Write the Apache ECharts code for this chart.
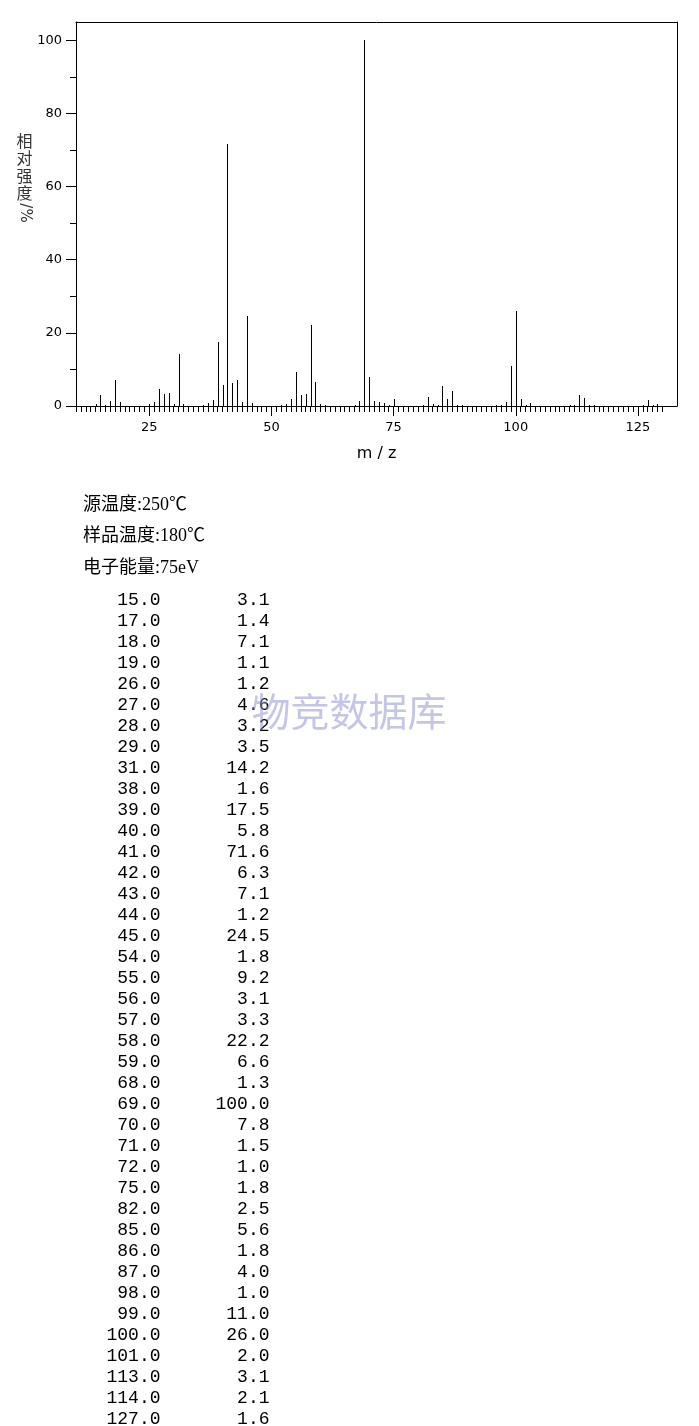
<!DOCTYPE html>
<html><head><meta charset="utf-8">
<script src="https://cdn.jsdelivr.net/npm/echarts@6/dist/echarts.min.js"></script>
<style>html,body{margin:0;padding:0;background:#fff;}#c{width:699px;height:1426px;}</style>
</head><body><div id="c"></div>
<script>
// Peaks listed in the table (m/z, relative intensity %)
const tableMz = [15,17,18,19,26,27,28,29,31,38,39,40,41,42,43,44,45,54,55,56,57,58,59,68,69,70,71,72,75,82,85,86,87,98,99,100,101,113,114,127];
const tableIntensity = [3.1,1.4,7.1,1.1,1.2,4.6,3.2,3.5,14.2,1.6,17.5,5.8,71.6,6.3,7.1,1.2,24.5,1.8,9.2,3.1,3.3,22.2,6.6,1.3,100.0,7.8,1.5,1.0,1.8,2.5,5.6,1.8,4.0,1.0,11.0,26.0,2.0,3.1,2.1,1.6];
// Small peaks visible in the plot only
const minorMz = [14,16,25,30,32,36,37,46,52,53,60,61,67,73,74,81,83,84,88,89,96,97,102,103,111,112,115,116,126,128,129];
const minorIntensity = [0.6,0.4,0.5,0.6,0.5,0.4,0.9,0.8,0.4,0.6,0.5,0.2,0.4,0.8,0.4,0.4,0.6,0.4,0.4,0.4,0.4,0.2,0.4,0.9,0.4,0.3,0.4,0.4,0.4,0.4,0.6];
// Axis ticks / labels
const xMajorTicks = [25,50,75,100,125];
const xMinorTicks = [];
for (let v = 10; v <= 130; v++) xMinorTicks.push(v);
const yMajorTicks = [0,20,40,60,80,100];
const yMinorTicks = [10,30,50,70,90];
// Texts
const yNameChars = ['相','对','强','度'];
const yNameTail = '/%';
const xName = 'm / z';
const infoLines = ['源温度:250℃','样品温度:180℃','电子能量:75eV'];
const watermark = '物竞数据库';

const peaks = [];
tableMz.forEach((m,i)=>peaks.push([m, tableIntensity[i]]));
minorMz.forEach((m,i)=>peaks.push([m, minorIntensity[i]]));

const chart = echarts.init(document.getElementById('c'), null, {renderer:'canvas'});

const gfx = [];
yNameChars.forEach((ch,i)=>{
  gfx.push({type:'text', x:24.5, y:141 + i*17.3, style:{text:ch, fill:'#333', font:'16px "Noto Sans CJK SC"', align:'center', verticalAlign:'middle'}});
});
gfx.push({type:'text', x:24.5, y:213, rotation:-Math.PI/2, style:{text:yNameTail, fill:'#333', font:'15px "DejaVu Sans"', align:'center', verticalAlign:'middle'}});
gfx.push({type:'text', x:376.5, y:454, style:{text:xName, fill:'#000', font:'16px "DejaVu Sans"', align:'center', verticalAlign:'middle'}});
infoLines.forEach((t,i)=>{
  gfx.push({type:'text', x:83, y:[505,536,568][i], style:{text:t, fill:'#000', font:'18px "Liberation Serif", "Noto Sans CJK SC"', align:'left', verticalAlign:'middle'}});
});
tableMz.forEach((m,i)=>{
  const y = 600 + 21*i;
  gfx.push({type:'text', x:160.5, y:y, style:{text:m.toFixed(1), fill:'#000', font:'18px "Liberation Mono"', align:'right', verticalAlign:'middle'}});
  gfx.push({type:'text', x:269.5, y:y, style:{text:tableIntensity[i].toFixed(1), fill:'#000', font:'18px "Liberation Mono"', align:'right', verticalAlign:'middle'}});
});
gfx.push({type:'text', x:349, y:711, z:100, style:{text:watermark, fill:'rgba(140,140,210,0.5)', font:'39px "Noto Sans CJK SC"', align:'center', verticalAlign:'middle'}});

const axisBase = {type:'value', min:10, max:133, splitLine:{show:false}};
const yBase = {type:'value', min:0, max:105, splitLine:{show:false}};

chart.setOption({
  animation:false,
  backgroundColor:'#fff',
  grid:{left:76, top:22, width:601, height:384, containLabel:false},
  xAxis:[
    Object.assign({}, axisBase, {position:'bottom',
      axisLine:{show:true, onZero:false, lineStyle:{color:'#000', width:1}},
      axisTick:{show:true, customValues:xMajorTicks, length:10, lineStyle:{color:'#000', width:1}},
      axisLabel:{show:true, customValues:xMajorTicks, color:'#000', fontSize:13, fontFamily:'DejaVu Sans', margin:15}}),
    Object.assign({}, axisBase, {position:'bottom',
      axisLine:{show:false, onZero:false},
      axisTick:{show:true, customValues:xMinorTicks, length:6, lineStyle:{color:'#000', width:1}},
      axisLabel:{show:false}}),
    Object.assign({}, axisBase, {position:'top',
      axisLine:{show:true, onZero:false, lineStyle:{color:'#000', width:1}},
      axisTick:{show:false}, axisLabel:{show:false}})
  ],
  yAxis:[
    Object.assign({}, yBase, {position:'left',
      axisLine:{show:true, onZero:false, lineStyle:{color:'#000', width:1}},
      axisTick:{show:true, customValues:yMajorTicks, length:10, lineStyle:{color:'#000', width:1}},
      axisLabel:{show:true, customValues:yMajorTicks, color:'#000', fontSize:13, fontFamily:'DejaVu Sans', margin:14}}),
    Object.assign({}, yBase, {position:'left',
      axisLine:{show:false, onZero:false},
      axisTick:{show:true, customValues:yMinorTicks, length:6, lineStyle:{color:'#000', width:1}},
      axisLabel:{show:false}}),
    Object.assign({}, yBase, {position:'right',
      axisLine:{show:true, onZero:false, lineStyle:{color:'#000', width:1}},
      axisTick:{show:false}, axisLabel:{show:false}})
  ],
  series:[{
    type:'custom',
    xAxisIndex:0, yAxisIndex:0,
    data:peaks,
    renderItem:function(params, api){
      const p0 = api.coord([api.value(0), 0]);
      const p1 = api.coord([api.value(0), api.value(1)]);
      const x = Math.round(p0[0]) + 0.5;
      return {type:'line', shape:{x1:x, y1:Math.round(p0[1]), x2:x, y2:Math.round(p1[1])}, style:{stroke:'#000', lineWidth:1}};
    }
  }],
  graphic:gfx
});
</script></body></html>
